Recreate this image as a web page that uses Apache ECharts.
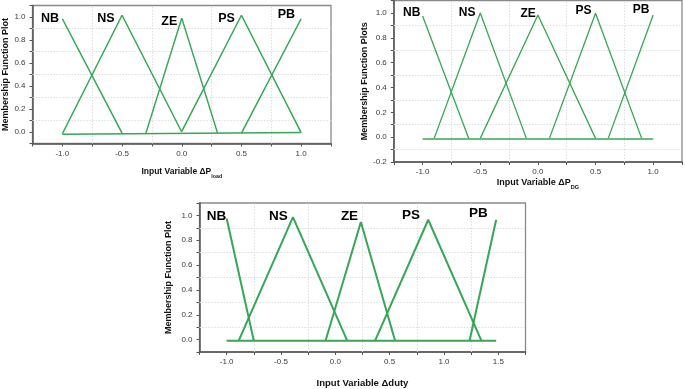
<!DOCTYPE html>
<html><head><meta charset="utf-8">
<script src="https://cdn.jsdelivr.net/npm/echarts@6/dist/echarts.min.js"></script>
<style>html,body{margin:0;padding:0;background:#fff}#c{width:685px;height:389px}</style>
</head><body><div id="c"></div>
<script>
// ---- data ----
const categories = ['NB', 'NS', 'ZE', 'PS', 'PB'];

// Chart 1: Input Variable ΔP_load
const load_NB = [[-1, 0.985], [-0.5, -0.01]];
const load_NS = [[-1, -0.015], [-0.5, 1.015], [0, 0]];
const load_ZE = [[-0.3, -0.01], [0, 0.99], [0.3, -0.01]];
const load_PS = [[0, 0.005], [0.5, 1.015], [1, -0.005]];
const load_PB = [[0.5, -0.01], [1, 0.985]];
const load_base = [[-1, -0.02], [1, -0.005]];
const load_labelPos = [[-1.1, 0.98], [-0.63, 0.98], [-0.1, 0.955], [0.38, 0.985], [0.88, 1.015]];
const load_xTicks = [-1.0, -0.5, 0.0, 0.5, 1.0];
const load_yTicks = [0.0, 0.2, 0.4, 0.6, 0.8, 1.0];

// Chart 2: Input Variable ΔP_DG
const dg_NB = [[-1, 0.976], [-0.6, -0.01]];
const dg_NS = [[-0.9, -0.01], [-0.5, 1.0], [-0.1, -0.01]];
const dg_ZE = [[-0.5, -0.01], [0, 0.984], [0.5, -0.01]];
const dg_PS = [[0.1, -0.01], [0.5, 0.997], [0.9, -0.01]];
const dg_PB = [[0.61, -0.01], [1, 0.984]];
const dg_base = [[-1, -0.015], [1, -0.015]];
const dg_labelPos = [[-1.09, 1.0], [-0.61, 1.0], [-0.08, 0.99], [0.4, 1.01], [0.9, 1.02]];
const dg_xTicks = [-1.0, -0.5, 0.0, 0.5, 1.0];
const dg_yTicks = [-0.2, 0.0, 0.2, 0.4, 0.6, 0.8, 1.0];

// Chart 3: Input Variable Δduty
const duty_NB = [[-1, 0.975], [-0.75, -0.01]];
const duty_NS = [[-0.89, -0.01], [-0.39, 0.987], [0.11, -0.01]];
const duty_ZE = [[-0.09, -0.01], [0.235, 0.947], [0.55, -0.01]];
const duty_PS = [[0.365, -0.01], [0.855, 0.965], [1.345, -0.01]];
const duty_PB = [[1.235, -0.01], [1.48, 0.965]];
const duty_base = [[-1, -0.01], [1.48, -0.01]];
const duty_labelPos = [[-1.09, 0.99], [-0.52, 0.99], [0.135, 0.987], [0.7, 1.0], [1.32, 1.013]];
const duty_xTicks = [-1.0, -0.5, 0.0, 0.5, 1.0, 1.5];
const duty_yTicks = [0.0, 0.2, 0.4, 0.6, 0.8, 1.0];

// ---- chart ----
const chart = echarts.init(document.getElementById('c'), null, {renderer: 'canvas'});
const FONT = '"Liberation Sans", Arial, sans-serif';
const GREEN = '#36a657';

const panels = [
  {grid: {left: 32.5, top: 5.5, width: 298.5, height: 138}, x: [-1.25, 1.25], y: [-0.1, 1.1],
   xTicks: load_xTicks, yTicks: load_yTicks,
   series: [load_NB, load_NS, load_ZE, load_PS, load_PB], base: load_base, labels: load_labelPos,
   yName: 'Membership Function Plot', yGap: 18, xName: 'Input Variable ΔP{sub|load}', xGap: 24,
   nameSize: 8.5, labelSize: 12.5, lw: 1.5},
  {grid: {left: 393.8, top: 0.5, width: 290.5, height: 161.5}, x: [-1.25, 1.25], y: [-0.2, 1.1],
   xTicks: dg_xTicks, yTicks: dg_yTicks,
   series: [dg_NB, dg_NS, dg_ZE, dg_PS, dg_PB], base: dg_base, labels: dg_labelPos,
   yName: 'Membership Function Plots', yGap: 16, xName: 'Input Variable ΔP{sub|DG}', xGap: 16.5,
   nameSize: 9, labelSize: 12, lw: 1.3},
  {grid: {left: 199.5, top: 203, width: 326, height: 150.3}, x: [-1.25, 1.75], y: [-0.1, 1.1],
   xTicks: duty_xTicks, yTicks: duty_yTicks,
   series: [duty_NB, duty_NS, duty_ZE, duty_PS, duty_PB], base: duty_base, labels: duty_labelPos,
   yName: 'Membership Function Plot', yGap: 26, xName: 'Input Variable Δduty', xGap: 26,
   nameSize: 9.5, labelSize: 13.5, lw: 2}
];

function near(list, v) { return list.some(t => Math.abs(t - v) < 1e-6); }

const option = {animation: false, grid: [], xAxis: [], yAxis: [], series: []};
panels.forEach((p, i) => {
  option.grid.push(Object.assign({show: true, borderColor: '#8a8a8a', borderWidth: 1.3, backgroundColor: 'transparent'}, p.grid));
  option.xAxis.push({
    type: 'value', gridIndex: i, min: p.x[0], max: p.x[1], interval: 0.25,
    axisLine: {show: true, onZero: false, lineStyle: {color: '#555', width: 1.5}},
    axisTick: {show: true, length: 3, lineStyle: {color: '#555'}},
    axisLabel: {fontSize: 8, color: '#3a3a3a', fontFamily: FONT, margin: 6,
      formatter: v => near(p.xTicks, v) ? v.toFixed(1) : ''},
    splitLine: {show: false},
    name: p.xName, nameLocation: 'middle', nameGap: p.xGap,
    nameTextStyle: {fontSize: p.nameSize, fontWeight: 'bold', color: '#111', fontFamily: FONT,
      rich: {sub: {fontSize: p.nameSize * 0.62, fontWeight: 'bold', color: '#111', fontFamily: FONT, verticalAlign: 'bottom', padding: [0, 0, -3, 0]}}}
  });
  option.yAxis.push({
    type: 'value', gridIndex: i, min: p.y[0], max: p.y[1], interval: 0.1,
    axisLine: {show: true, onZero: false, lineStyle: {color: '#555', width: 1.5}},
    axisTick: {show: true, length: 3, lineStyle: {color: '#555'}},
    axisLabel: {fontSize: 8, color: '#3a3a3a', fontFamily: FONT, margin: 7,
      formatter: v => near(p.yTicks, v) ? v.toFixed(1) : ''},
    splitLine: {show: false},
    name: p.yName, nameLocation: 'middle', nameGap: p.yGap, nameRotate: 90,
    nameTextStyle: {fontSize: 9, fontWeight: 'bold', color: '#111', fontFamily: FONT}
  });
  // dotted guide lines at odd quarters (x) and odd tenths (y)
  const guides = [];
  for (let k = Math.round(p.x[0] * 4) + 1; k < Math.round(p.x[1] * 4); k++) {
    if (Math.abs(k) % 2 === 1) guides.push({xAxis: k / 4});
  }
  for (let k = Math.round(p.y[0] * 10) + 1; k < Math.round(p.y[1] * 10); k++) {
    if (Math.abs(k) % 2 === 1) guides.push({yAxis: k / 10});
  }
  option.series.push({
    type: 'line', xAxisIndex: i, yAxisIndex: i, data: p.base, showSymbol: false, symbol: 'none',
    lineStyle: {color: GREEN, width: p.lw}, z: 3,
    markLine: {silent: true, symbol: 'none', label: {show: false}, animation: false, z: 1,
      lineStyle: {color: '#dedede', type: [1.5, 1.5], width: 1}, data: guides}
  });
  p.series.forEach(d => {
    option.series.push({type: 'line', xAxisIndex: i, yAxisIndex: i, data: d, showSymbol: false, symbol: 'none',
      lineStyle: {color: GREEN, width: p.lw}, z: 3});
  });
  option.series.push({
    type: 'scatter', xAxisIndex: i, yAxisIndex: i, symbolSize: 1, itemStyle: {color: '#ffffff', opacity: 0},
    data: p.labels.map((pt, j) => ({value: pt, name: categories[j]})), z: 5,
    label: {show: true, position: [0, 0], align: 'center', verticalAlign: 'middle', formatter: '{b}',
      fontSize: p.labelSize, fontWeight: 'bold', color: '#000', opacity: 1, fontFamily: FONT}
  });
});
chart.setOption(option);
</script></body></html>
